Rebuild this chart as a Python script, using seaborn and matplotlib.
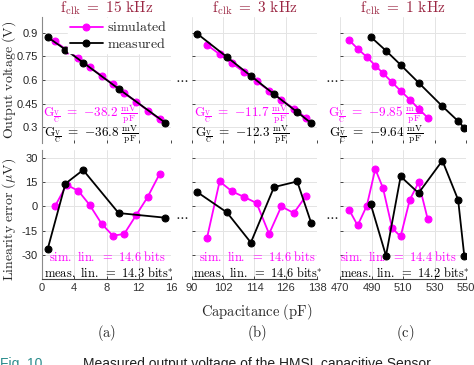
import numpy as np
import pandas as pd
import matplotlib
matplotlib.use("Agg")
import matplotlib.pyplot as plt
import seaborn as sns

sns.set_theme(style="whitegrid")
plt.rcParams['font.family'] = ['Liberation Sans', 'DejaVu Sans']
plt.rcParams['mathtext.fontset'] = 'cm'
plt.rcParams['axes.unicode_minus'] = False

MAG = '#ff00ff'
TITLE_C = '#9b2743'

# (a) f_clk = 15 kHz
a_sim_x = [1.6, 3.05, 4.5, 5.9, 7.4, 8.8, 10.2, 11.7, 13.1, 14.6]
a_sim_v = [0.846, 0.792, 0.737, 0.682, 0.627, 0.572, 0.517, 0.462, 0.406, 0.351]
a_sim_err = [0.0, 13.4, 9.7, 1.0, -10.8, -18.2, -17.0, -5.2, 5.8, 20.3]
a_meas_x = [0.7, 2.9, 5.1, 9.5, 15.3]
a_meas_v = [0.872, 0.793, 0.711, 0.544, 0.328]
a_meas_err = [-26.5, 14.1, 22.6, -4.1, -7.0]

# (b) f_clk = 3 kHz
b_sim_x = [95.8, 100.6, 105.4, 110.1, 114.8, 119.6, 124.3, 129.1, 133.8]
b_sim_v = [0.822, 0.764, 0.706, 0.649, 0.591, 0.533, 0.475, 0.418, 0.360]
b_sim_err = [-19.3, 15.5, 9.3, 5.8, 2.1, -17.0, 0.0, -4.1, 6.6]
b_meas_x = [92.0, 103.4, 112.6, 121.5, 130.4, 135.8]
b_meas_v = [0.894, 0.746, 0.626, 0.510, 0.396, 0.326]
b_meas_err = [8.9, -3.7, -22.4, 12.0, 15.5, -10.4]

# (c) f_clk = 1 kHz
c_sim_x = [475.8, 481.2, 487.0, 492.4, 497.3, 503.1, 508.5, 514.3, 519.9, 525.7]
c_sim_v = [0.853, 0.799, 0.746, 0.692, 0.643, 0.585, 0.531, 0.476, 0.418, 0.360]
c_sim_err = [-2.1, -11.8, 0.4, 23.2, 11.4, -13.5, -18.6, 4.1, 14.9, -7.9]
c_meas_x = [489.5, 499.2, 508.5, 519.9, 535.0, 545.0, 548.9]
c_meas_v = [0.874, 0.786, 0.696, 0.583, 0.433, 0.339, 0.296]
c_meas_err = [1.4, -30.6, 18.6, 8.3, 28.4, 4.1, -30.6]

titles = ['15', '3', '1']
xticks = [[0, 4, 8, 12, 16], [90, 102, 114, 126, 138], [470, 490, 510, 530, 550]]
g_sim = ['-38.2', '-11.7', '-9.85']
g_meas = ['-36.8', '-12.3', '-9.64']
lin_sim = ['14.6', '14.6', '14.4']
lin_meas = ['14.3', '14.6', '14.2']

panels = [
    (a_sim_x, a_sim_v, a_sim_err, a_meas_x, a_meas_v, a_meas_err),
    (b_sim_x, b_sim_v, b_sim_err, b_meas_x, b_meas_v, b_meas_err),
    (c_sim_x, c_sim_v, c_sim_err, c_meas_x, c_meas_v, c_meas_err),
]

W, H = 474, 365
fig = plt.figure(figsize=(W / 100, H / 100), dpi=100)


def fx(px):
    return px / W


def fy(py):
    return 1 - py / H


def px_axes(x0, x1, y0, y1):
    return fig.add_axes([fx(x0), fy(y1), (x1 - x0) / W, (y1 - y0) / H])


cols = [(42, 171), (192, 317), (340, 466)]
TOP = (17, 143)
BOT = (150, 279)
g_x = [43, 194, 328]
sim_x = [49, 199, 340]
meas_x = [44, 193, 340]


def style(ax, i, bottom_row):
    ax.grid(True, color='#e4e4e4', lw=0.7)
    for s in ax.spines.values():
        s.set_visible(False)
    if i == 0:
        ax.spines['left'].set_visible(True)
        ax.spines['left'].set_color('#8a8a8a')
        ax.spines['left'].set_linewidth(0.8)
    if bottom_row:
        ax.spines['bottom'].set_visible(True)
        ax.spines['bottom'].set_color('#444444')
        ax.spines['bottom'].set_linewidth(0.8)
    ax.tick_params(direction='in', length=2.5, width=0.7, color='#444444',
                   left=True, bottom=True, labelsize=8, pad=3)
    ax.set_xlabel('')
    ax.set_ylabel('')


for i, (sx, sv, se, mx, mv, me) in enumerate(panels):
    x0, x1 = cols[i]
    sim_top = pd.DataFrame({'C': sx, 'V': sv})
    meas_top = pd.DataFrame({'C': mx, 'V': mv})
    sim_bot = pd.DataFrame({'C': sx, 'E': se})
    meas_bot = pd.DataFrame({'C': mx, 'E': me})

    ax = px_axes(x0, x1, *TOP)
    sns.lineplot(data=sim_top, x='C', y='V', color=MAG, marker='o', markersize=5,
                 markeredgecolor=MAG, lw=1.3, ax=ax, label=r'$\mathrm{simulated}$')
    sns.lineplot(data=meas_top, x='C', y='V', color='black', marker='o', markersize=5,
                 markeredgecolor='black', lw=1.3, ax=ax, label=r'$\mathrm{measured}$')
    ax.set_xlim(xticks[i][0], xticks[i][-1])
    ax.set_ylim(0.2, 1.0)
    ax.set_xticks(xticks[i])
    ax.set_yticks([0.3, 0.45, 0.6, 0.75, 0.9])
    ax.set_yticklabels(['0.3', '0.45', '0.6', '0.75', '0.9'])
    style(ax, i, False)
    ax.tick_params(labelbottom=False)
    if i > 0:
        ax.tick_params(labelleft=False)
    if i == 0:
        ax.legend(loc='upper right', frameon=True, facecolor='white', edgecolor='white',
                  framealpha=1, fontsize=10, handlelength=2.4, borderpad=0.15,
                  labelspacing=0.15, handletextpad=0.3, borderaxespad=0.1)
    else:
        ax.get_legend().remove()
    ax.set_title(r'$\mathrm{f_{clk}\ =\ %s\ kHz}$' % titles[i], color=TITLE_C,
                 fontsize=11, pad=3)

    ax2 = px_axes(x0, x1, *BOT)
    sns.lineplot(data=sim_bot, x='C', y='E', color=MAG, marker='o', markersize=5,
                 markeredgecolor=MAG, lw=1.3, ax=ax2, legend=False)
    sns.lineplot(data=meas_bot, x='C', y='E', color='black', marker='o', markersize=5,
                 markeredgecolor='black', lw=1.3, ax=ax2, legend=False)
    ax2.set_xlim(xticks[i][0], xticks[i][-1])
    ax2.set_ylim(-45, 35)
    ax2.set_xticks(xticks[i])
    ax2.set_yticks([-30, -15, 0, 15, 30])
    style(ax2, i, True)
    if i > 0:
        ax2.tick_params(labelleft=False)
    for lab in ax2.get_xticklabels():
        lab.set_color('#333333')

    # gain annotations
    fig.text(fx(g_x[i]), fy(117),
             r'$\mathrm{G}_{\frac{\mathrm{V}}{\mathrm{C}}}\ =\ \mathrm{%s}\ \frac{\mathrm{mV}}{\mathrm{pF}}$' % g_sim[i],
             color=MAG, fontsize=9.5, va='baseline', ha='left')
    fig.text(fx(g_x[i] + 1), fy(137),
             r'$\mathrm{G}_{\frac{\mathrm{V}}{\mathrm{C}}}\ =\ \mathrm{%s}\ \frac{\mathrm{mV}}{\mathrm{pF}}$' % g_meas[i],
             color='black', fontsize=9.5, va='baseline', ha='left')
    # linearity annotations
    fig.text(fx(sim_x[i]), fy(261),
             r'$\mathrm{sim.\ lin.\ =\ %s\ bits}$' % lin_sim[i],
             color=MAG, fontsize=9, va='baseline', ha='left')
    fig.text(fx(meas_x[i]), fy(277),
             r'$\mathrm{meas.\ lin.\ =\ %s\ bits}^{*}$' % lin_meas[i],
             color='black', fontsize=9, va='baseline', ha='left')

# break marks between panels
for xp in (182, 332):
    for yp in (79, 216):
        fig.text(fx(xp), fy(yp), r'$\cdots$', fontsize=10, ha='center', va='center')

fig.text(fx(9), fy(80), r'$\mathrm{Output\ voltage\ (V)}$', rotation=90,
         fontsize=10, ha='center', va='center')
fig.text(fx(9), fy(219), r'$\mathrm{Linearity\ error\ (}\mu\mathrm{V)}$', rotation=90,
         fontsize=10, ha='center', va='center')
fig.text(fx(257), fy(312), r'$\mathrm{Capacitance\ (pF)}$', fontsize=10.5,
         ha='center', va='center')
for xp, lab in zip((107, 257, 405), ('(a)', '(b)', '(c)')):
    fig.text(fx(xp), fy(333), r'$\mathrm{%s}$' % lab, fontsize=10.5, ha='center', va='center')

fig.text(fx(0), fy(357), 'Fig. 10.', color='#2b8c8c', fontsize=10, va='top', ha='left')
fig.text(fx(83), fy(357), 'Measured output voltage of the HMSL capacitive Sensor',
         color='#222222', fontsize=10, va='top', ha='left')

fig.savefig('out.png', dpi=100)
